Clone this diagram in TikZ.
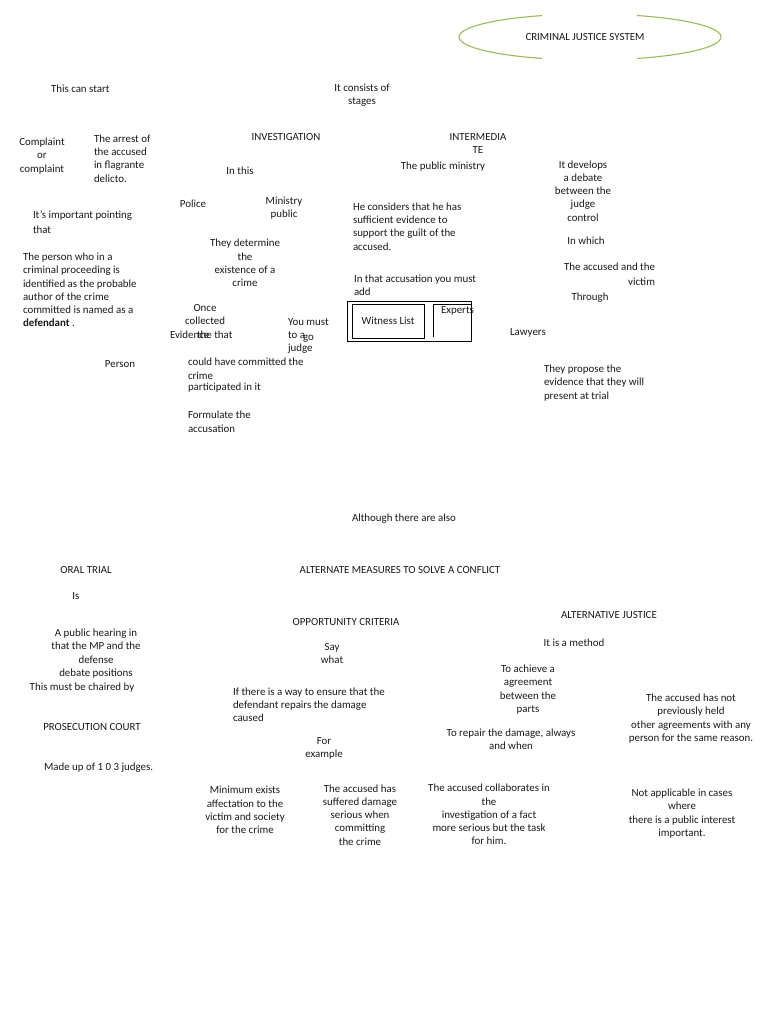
\documentclass[tikz,border=0pt]{standalone}
\usepackage{fontspec}
\setmainfont{Carlito}
\definecolor{txt}{HTML}{1A1A1A}
\definecolor{elgreen}{HTML}{9BBB59}
\begin{document}
\begin{tikzpicture}[x=1pt,y=-1pt,
  every node/.style={inner sep=0pt,outer sep=0pt,text=txt,font=\fontsize{10.9}{13.2}\selectfont},
  lt/.style={anchor=west,align=left},
  ct/.style={align=center},
  rt/.style={anchor=east,align=right},
  boxline/.style={draw=black,line width=1pt}]
\fill[white] (0,0) rectangle (768,1024);
\useasboundingbox (0,0) rectangle (768,1024);

% title ellipse (broken at top and bottom)
\coordinate (ellc) at (590,37);
\node (title) at (585,37) {CRIMINAL JUSTICE SYSTEM};
\draw[elgreen,line width=1.1pt] (ellc) ++(111.5:131 and 23) arc[start angle=111.5,end angle=248.5,x radius=131,y radius=23];
\draw[elgreen,line width=1.1pt] (ellc) ++(-69:131 and 23) arc[start angle=-69,end angle=69,x radius=131,y radius=23];

\node[lt] (start) at (51,89) {This can start};
\node[ct] (stages) at (362,95.5) {It consists of\\stages};
\node[ct] (compl) at (42,156) {Complaint\\or\\complaint};
\node[lt] (arrest) at (94,158.5) {The arrest of\\the accused\\in flagrante\\delicto.};
\node (invest) at (286,137) {INVESTIGATION};
\node[ct] (interm) at (478,143.5) {INTERMEDIA\\TE};
\node (pubmin) at (443,167) {The public ministry};
\node (inthis) at (240,171) {In this};
\node[ct] (debate) at (583,191) {It develops\\a debate\\between the\\judge\\control};
\node (police) at (193,204) {Police};
\node[ct] (minpub) at (284,208.5) {Ministry\\public};
\node[lt] (considers) at (353,226.5) {He considers that he has\\sufficient evidence to\\support the guilt of the\\accused.};
\node[lt] (important) at (33,222) {It's important pointing\\[2pt]that};
\node (inwhich) at (586,241) {In which};
\node[ct] (determine) at (245,263) {They determine\\the\\existence of a\\crime};
\node[lt] (person) at (23,290) {The person who in a\\criminal proceeding is\\identified as the probable\\author of the crime\\committed is named as a\\\textbf{defendant} .};
\node[lt] (accadd) at (354,285.5) {In that accusation you must\\add};
\node[rt] (victim) at (655,274.5) {The accused and the\\[2pt]victim};
\node (through) at (590,298) {Through};
\node[ct] (once) at (205,314.5) {Once\\collected};
\node[lt] (evid) at (170,335) {Evidence};
\node[lt] (thethat) at (197,335) {the that};
\node[lt] (mustto) at (288,336) {You must\\to a\\judge};
\node[lt] (go) at (303,339) {go};

% witness list box
\node[boxline,minimum width=124,minimum height=40] (outerbox) at (409,321) {};
\node[boxline,minimum width=72,minimum height=34] (witness) at (388,321) {Witness List};
\coordinate (expbl) at (433,337);
\coordinate (exptl) at (433,304);
\coordinate (exptr) at (471,304);
\draw[boxline] (expbl) -- (exptl) -- (exptr);
\node[lt] (experts) at (441,311) {Experts};

\node (lawyers) at (528,333) {Lawyers};
\node (personw) at (120,364) {Person};
\node[lt] (could) at (188,369) {could have committed the\\[1pt]crime};
\node[lt] (partic) at (188,388) {participated in it};
\node[lt] (propose) at (544,383) {They propose the\\evidence that they will\\present at trial};
\node[lt] (formulate) at (188,422) {Formulate the\\[1pt]accusation};

\node[lt] (although) at (352,519) {Although there are also};
\node (oral) at (86,570) {ORAL TRIAL};
\node (altmeas) at (400,570) {ALTERNATE MEASURES TO SOLVE A CONFLICT};
\node (is) at (76,596) {Is};
\node (altjust) at (609,615) {ALTERNATIVE JUSTICE};
\node (oppcrit) at (346,622) {OPPORTUNITY CRITERIA};
\node[ct] (hearing) at (96,653.5) {A public hearing in\\that the MP and the\\defense\\debate positions};
\node (chaired) at (82,688) {This must be chaired by};
\node (method) at (574,643) {It is a method};
\node[ct] (saywhat) at (332,653.5) {Say\\what};
\node[ct] (achieve) at (528,689.5) {To achieve a\\agreement\\between the\\parts};
\node[lt] (ifthere) at (233,704.5) {If there is a way to ensure that the\\defendant repairs the damage\\caused};
\node[ct] (notheld) at (691,718.5) {The accused has not\\previously held\\other agreements with any\\person for the same reason.};
\node (prosec) at (92,727) {PROSECUTION COURT};
\node[ct] (repair) at (511,739.5) {To repair the damage, always\\and when};
\node[ct] (example) at (324,748) {For\\example};
\node[lt] (madeup) at (44,768) {Made up of 1 0 3 judges.};
\node[ct] (minimum) at (245,810) {Minimum exists\\affectation to the\\victim and society\\for the crime};
\node[ct] (suffered) at (360,815) {The accused has\\suffered damage\\serious when\\committing\\the crime};
\node[ct] (collab) at (489,814.5) {The accused collaborates in\\the\\investigation of a fact\\more serious but the task\\for him.};
\node[ct] (notappl) at (682,813.5) {Not applicable in cases\\where\\there is a public interest\\important.};
\end{tikzpicture}
\end{document}
